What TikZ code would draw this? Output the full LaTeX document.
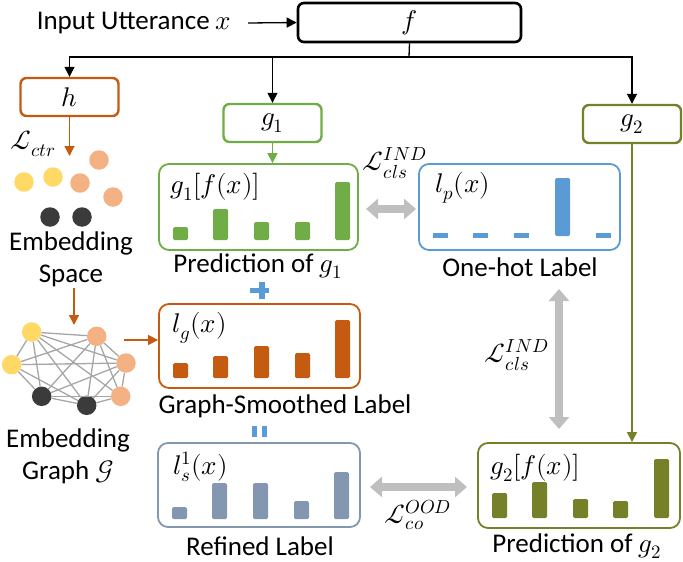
\documentclass[tikz,border=0pt]{standalone}
\usepackage{fontspec}
\setmainfont{Carlito}
\usepackage{unicode-math}
\usetikzlibrary{arrows.meta}
\definecolor{cor}{HTML}{C55A11}
\definecolor{cgr}{HTML}{70AD47}
\definecolor{cbl}{HTML}{5B9BD5}
\definecolor{col}{HTML}{768028}
\definecolor{crf}{HTML}{8497B0}
\definecolor{cga}{HTML}{BFBFBF}
\definecolor{ced}{HTML}{A6A6A6}
\definecolor{cye}{HTML}{FFD966}
\definecolor{clo}{HTML}{F4B183}
\definecolor{cdk}{HTML}{3B3B3B}
\begin{document}
\begin{tikzpicture}[x=1pt,y=-1pt,
  every node/.style={font=\fontsize{27}{32}\selectfont, inner sep=0pt},
  smallbox/.style={draw=#1, rounded corners=6pt, line width=2.4pt, minimum width=98pt, minimum height=38pt},
  bigbox/.style={draw=#1, rounded corners=10pt, line width=1.8pt, minimum width=201pt, minimum height=85pt},
  conn/.style={line width=1.3pt, draw=#1, -{Triangle[width=10pt,length=10pt]}},
  conn/.default=black,
  garr/.style={draw=cga, line width=8pt, {Triangle[width=20pt,length=12pt]}-{Triangle[width=20pt,length=12pt]}},
  dot/.style={circle, fill=#1, minimum size=19.5pt},
  gedge/.style={draw=ced, line width=1.3pt},
  bar/.style={fill=#1, rounded corners=1.5pt}
]
\useasboundingbox (0,0) rectangle (683,562);

% top
\node (inp) at (134,23) {Input Utterance $x$};
\node[draw=black, rounded corners=6pt, line width=2.6pt, minimum width=223pt, minimum height=39pt] (f) at (409.5,22.5) {$f$};
\coordinate (inpa) at (248,23);
\draw[conn] (inpa) -- (f.west);

\node[smallbox=cor] (h) at (69.5,97) {$h$};
\node[smallbox=cgr] (g1) at (272.5,123) {$g_1$};
\node[smallbox=col] (g2) at (632,124) {$g_2$};

\draw[line width=1.3pt] (f.south) -- (409,57) coordinate (j);
\draw[conn] (j) -| (h.north);
\draw[conn] (j) -| (g1.north);
\draw[conn] (j) -| (g2.north);

% embedding space
\coordinate (hend) at (69.5,156);
\draw[conn=cor] (h.south) -- (hend);
\node (lctr) at (33,144) {$\mathcal{L}_{ctr}$};
\node[dot=cye] (y1) at (24,182) {};
\node[dot=cye] (y2) at (53,177) {};
\node[dot=clo] (o1) at (99,160) {};
\node[dot=clo] (o2) at (80,183) {};
\node[dot=clo] (o3) at (113,197) {};
\node[dot=cdk] (b1) at (50,217) {};
\node[dot=cdk] (b2) at (82,217) {};
\node[align=center] (es) at (71,259) {Embedding\\Space};
\coordinate (s1) at (74,288);
\coordinate (s2) at (74,325);
\draw[conn=cor] (s1) -- (s2);

% graph
\node[dot=cye] (gy1) at (31.7,332) {};
\node[dot=cye] (gy2) at (11.7,364.7) {};
\node[dot=clo] (go1) at (96.7,336.3) {};
\node[dot=clo] (go2) at (126,363) {};
\node[dot=clo] (go3) at (120.7,396.3) {};
\node[dot=cdk] (gb1) at (41.7,396.3) {};
\node[dot=cdk] (gb2) at (86.7,405.3) {};
\foreach \a/\b in {gy1/gy2,gy1/go1,gy1/go2,gy1/go3,gy1/gb1,gy1/gb2,
  gy2/go1,gy2/go2,gy2/gb1,gy2/gb2,
  go1/go2,go1/go3,go1/gb1,go1/gb2,
  go2/go3,go2/gb1,go2/gb2,
  go3/gb1,go3/gb2,gb1/gb2}
  \draw[gedge] (\a) -- (\b);
\node[align=center] (eg) at (68,456) {Embedding\\Graph $\mathcal{G}$};

% big boxes
\node[bigbox=cgr, minimum width=199pt, minimum height=86pt] (p1) at (258.5,207) {};
\node[bigbox=cbl, minimum height=86pt] (oh) at (519.5,207) {};
\node[bigbox=cor, minimum height=84pt] (gs) at (259.5,346) {};
\node[bigbox=crf, minimum width=202pt, minimum height=84pt] (rf) at (259,485) {};
\node[bigbox=col, minimum width=202pt] (p2) at (579,485.5) {};

\node[anchor=west] (p1t) at (170,187) {$g_1[f(x)]$};
\node[anchor=west] (oht) at (435,188) {$l_p(x)$};
\node[anchor=west] (gst) at (172,328) {$l_g(x)$};
\node[anchor=west] (rft) at (173,467) {$l_s^1(x)$};
\node[anchor=west] (p2t) at (490,468) {$g_2[f(x)]$};

\node (p1l) at (258,266) {Prediction of $g_1$};
\node (ohl) at (520,267) {One-hot Label};
\node (gsl) at (285,406) {Graph-Smoothed Label};
\node (rfl) at (260,546) {Refined Label};
\node (p2l) at (577,546) {Prediction of $g_2$};

% bars
\foreach \o/\t in {14/227,54/209,95/222,136/222,176/182}
  \fill[bar=cgr] (159+\o,\t) rectangle (174+\o,240);
\foreach \o/\t in {14/363,54/356,95/346,136/353,176/320}
  \fill[bar=cor] (159+\o,\t) rectangle (174+\o,378);
\foreach \o/\t in {14/507,54/483,95/483,136/501,176/472}
  \fill[bar=crf] (158+\o,\t) rectangle (173+\o,519);
\foreach \o/\t in {14/493,54/482,95/499,135/501,176/459}
  \fill[bar=col] (478+\o,\t) rectangle (493+\o,518);
\foreach \o in {14,54,95,177}
  \fill[cbl] (419+\o,233) rectangle (434+\o,237.5);
\fill[bar=cbl] (555,178) rectangle (570,236);

% arrows
\draw[conn=cgr] (g1.south) -- (g1.south |- p1.north);
\draw[conn=col] (g2.south) -- (g2.south |- p2.north);
\coordinate (ga) at (124,340);
\draw[conn=cor] (ga) -- (gs.west |- ga);

\coordinate (c1) at (366,209);
\coordinate (c2) at (416,209);
\draw[garr] (c1) -- (c2);
\coordinate (c3) at (559,289);
\coordinate (c4) at (559,429);
\draw[garr] (c3) -- (c4);
\coordinate (c5) at (370,487);
\coordinate (c6) at (467,487);
\draw[garr] (c5) -- (c6);

\node (l1) at (395,163) {$\mathcal{L}_{cls}^{IND}$};
\node (l2) at (517,355) {$\mathcal{L}_{cls}^{IND}$};
\node (l3) at (418,515) {$\mathcal{L}_{co}^{OOD}$};

% plus and equal
\fill[cbl] (250,288) rectangle (269,293);
\fill[cbl] (259,281.5) rectangle (264.5,299);
\fill[cbl] (252,426) rectangle (257,437);
\fill[cbl] (262,426) rectangle (267,437);
\end{tikzpicture}
\end{document}
